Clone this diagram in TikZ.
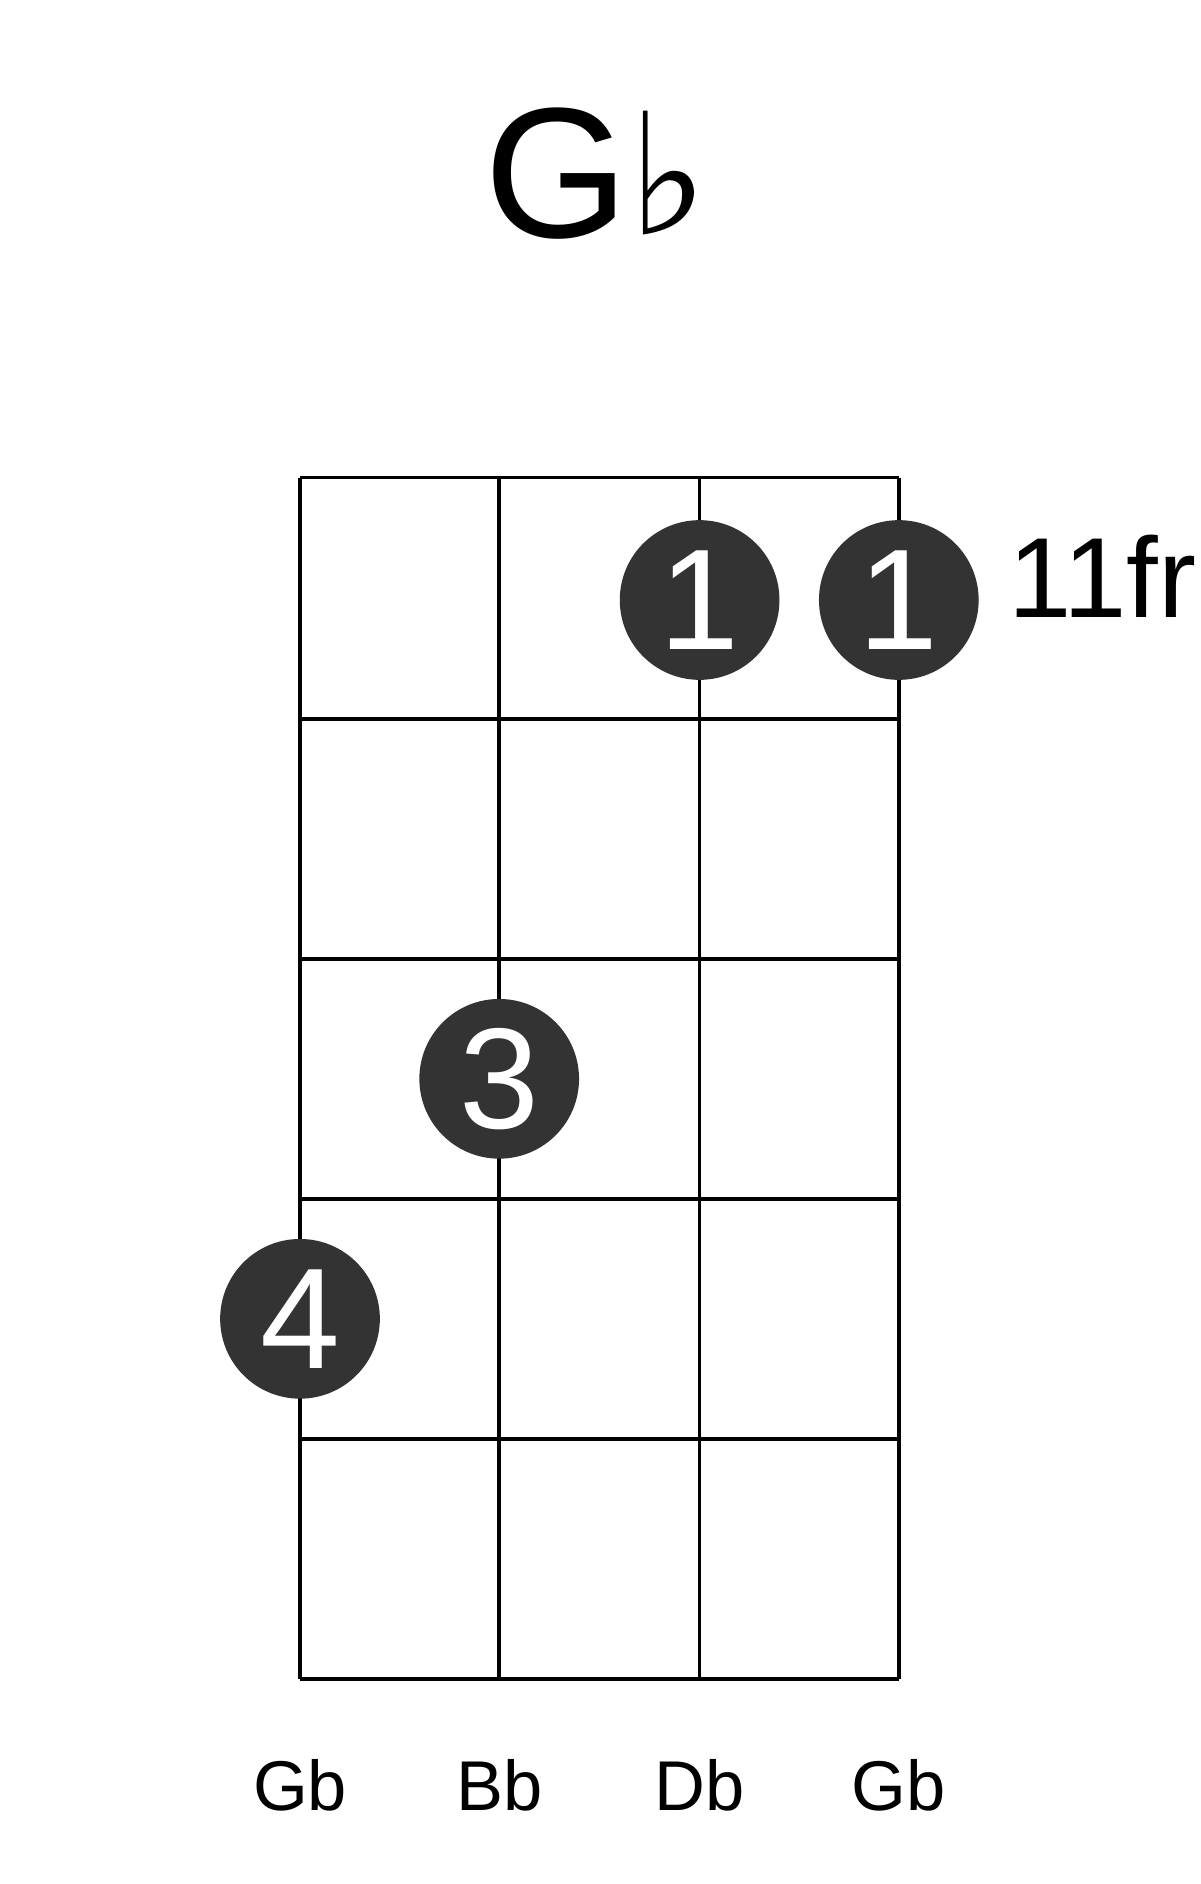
\documentclass[tikz,border=0pt]{standalone}
\usepackage{fontspec}
\setmainfont{Liberation Sans}
\newfontfamily\flatfont{DejaVu Sans}
\definecolor{dotgray}{HTML}{333333}
\tikzset{>=latex}

\begin{document}
\begin{tikzpicture}[x=0.01cm, y=-0.01cm]
\tikzset{fingerdot/.style={circle, fill=dotgray, minimum size=133\pgflinewidth, inner sep=0pt, text=white, font=\fontsize{34}{34}\selectfont},
         stringname/.style={font=\fontsize{16.7}{17}\selectfont}}
    \useasboundingbox (0,0) rectangle (1000,1570);
    % title
    \node (title) at (497,145) {\fontsize{44}{44}\selectfont G\raisebox{0.02em}{\flatfont\fontsize{40}{40}\selectfont ♭}};
    % grid
    \foreach \x in {250,416,583,749}
        \draw[line width=0.85pt] (\x,398) -- (\x,1399);
    \foreach \y in {398,599,799,999,1199,1399}
        \draw[line width=0.85pt] (250,\y) -- (749,\y);
    % fingers
    \node[circle, fill=dotgray, minimum size=1.33cm, inner sep=0pt, text=white, font=\fontsize{34}{34}\selectfont] (f1a) at (583,500) {1};
    \node[circle, fill=dotgray, minimum size=1.33cm, inner sep=0pt, text=white, font=\fontsize{34}{34}\selectfont] (f1b) at (749,500) {1};
    \node[circle, fill=dotgray, minimum size=1.33cm, inner sep=0pt, text=white, font=\fontsize{34}{34}\selectfont] (f3) at (416,899) {3};
    \node[circle, fill=dotgray, minimum size=1.33cm, inner sep=0pt, text=white, font=\fontsize{34}{34}\selectfont] (f4) at (250,1099) {4};
    \node[anchor=west, font=\fontsize{27}{27}\selectfont] (fret) at (828,480) {11fr};
    % strings
    \node[stringname] (sGa) at (250,1488) {Gb};
    \node[stringname] (sBb) at (416,1488) {Bb};
    \node[stringname] (sDb) at (583,1488) {Db};
    \node[stringname] (sGb) at (749,1488) {Gb};
\end{tikzpicture}
\end{document}
